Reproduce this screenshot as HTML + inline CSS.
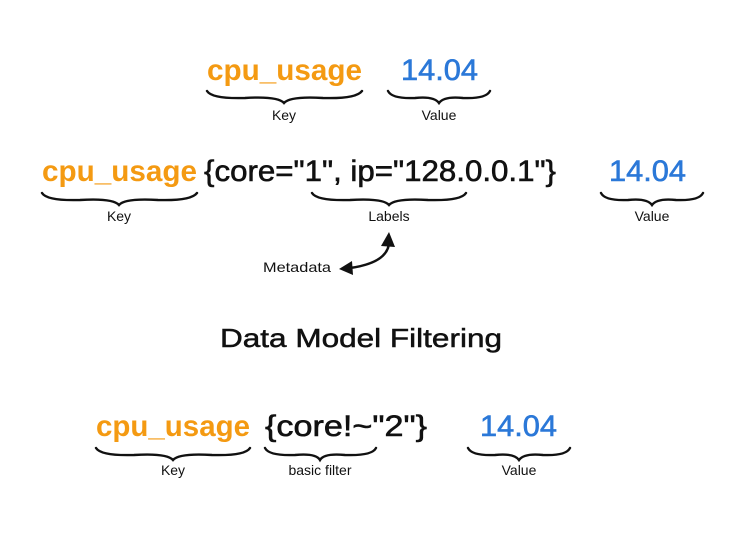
<!DOCTYPE html>
<html><head><meta charset="utf-8"><style>
html,body{margin:0;padding:0;background:#fff;}
svg{display:block}
text{font-family:"Liberation Sans",sans-serif;}
.b{fill:none;stroke:#111;stroke-width:2.4;stroke-linecap:round}
.s{font-size:14px;fill:#111}
.o{fill:#f49a12;font-size:30px;font-weight:bold}
.bl{fill:#2b78d8;font-size:30px;stroke:#2b78d8;stroke-width:0.6}
.k{fill:#111;font-size:30px;stroke:#111;stroke-width:0.6}
</style></head><body>
<svg width="754" height="539" viewBox="0 0 754 539">
<text class="o" x="207" y="80" textLength="155" lengthAdjust="spacingAndGlyphs">cpu_usage</text>
<text class="bl" x="401" y="80" textLength="77" lengthAdjust="spacingAndGlyphs">14.04</text>
<path class="b" d="M207 91 Q212 99 245 98 Q278 96 284 103 Q290 96 323 98 Q356 99 362 91"/>
<path class="b" d="M388 91 Q392 99 415 98 Q434 96 439 103 Q444 96 463 98 Q486 99 490 91"/>
<text class="s" x="284" y="120" text-anchor="middle">Key</text>
<text class="s" x="439" y="120" text-anchor="middle">Value</text>
<text class="o" x="42" y="181" textLength="155" lengthAdjust="spacingAndGlyphs">cpu_usage</text>
<text class="k" x="204" y="181" textLength="352" lengthAdjust="spacingAndGlyphs">{core="1", ip="128.0.0.1"}</text>
<text class="bl" x="609" y="181" textLength="77" lengthAdjust="spacingAndGlyphs">14.04</text>
<path class="b" d="M42 193 Q47 201 80 200 Q113 198 119 205 Q125 198 158 200 Q191 201 197 193"/>
<path class="b" d="M312 193 Q317 201 350 200 Q383 198 389 205 Q395 198 428 200 Q461 201 466 193"/>
<path class="b" d="M601 193 Q605 201 628 200 Q647 198 652 205 Q657 198 676 200 Q699 201 703 193"/>
<text class="s" x="119" y="221" text-anchor="middle">Key</text>
<text class="s" x="389" y="221" text-anchor="middle">Labels</text>
<text class="s" x="652" y="221" text-anchor="middle">Value</text>
<path class="b" d="M389 238 Q392 262 350 268"/>
<path d="M381 246 L389 232 L395 247 Z" fill="#111"/>
<path d="M352 261 L339 269 L353 275 Z" fill="#111"/>
<text class="s" x="263" y="272" textLength="68" lengthAdjust="spacingAndGlyphs">Metadata</text>
<text x="361" y="347" text-anchor="middle" font-size="26" fill="#111" stroke="#111" stroke-width="0.5" textLength="282" lengthAdjust="spacingAndGlyphs">Data Model Filtering</text>
<text class="o" x="96" y="436" textLength="154" lengthAdjust="spacingAndGlyphs">cpu_usage</text>
<text class="k" x="265" y="436" textLength="162" lengthAdjust="spacingAndGlyphs">{core!~"2"}</text>
<text class="bl" x="480" y="436" textLength="77" lengthAdjust="spacingAndGlyphs">14.04</text>
<path class="b" d="M96 448 Q101 456 134 455 Q167 453 173 460 Q179 453 212 455 Q245 456 250 448"/>
<path class="b" d="M265 448 Q269 456 295 455 Q316 453 320 460 Q324 453 345 455 Q372 456 376 448"/>
<path class="b" d="M468 448 Q472 456 495 455 Q514 453 519 460 Q524 453 543 455 Q566 456 570 448"/>
<text class="s" x="173" y="475" text-anchor="middle">Key</text>
<text class="s" x="320" y="475" text-anchor="middle">basic filter</text>
<text class="s" x="519" y="475" text-anchor="middle">Value</text>
</svg>
</body></html>
